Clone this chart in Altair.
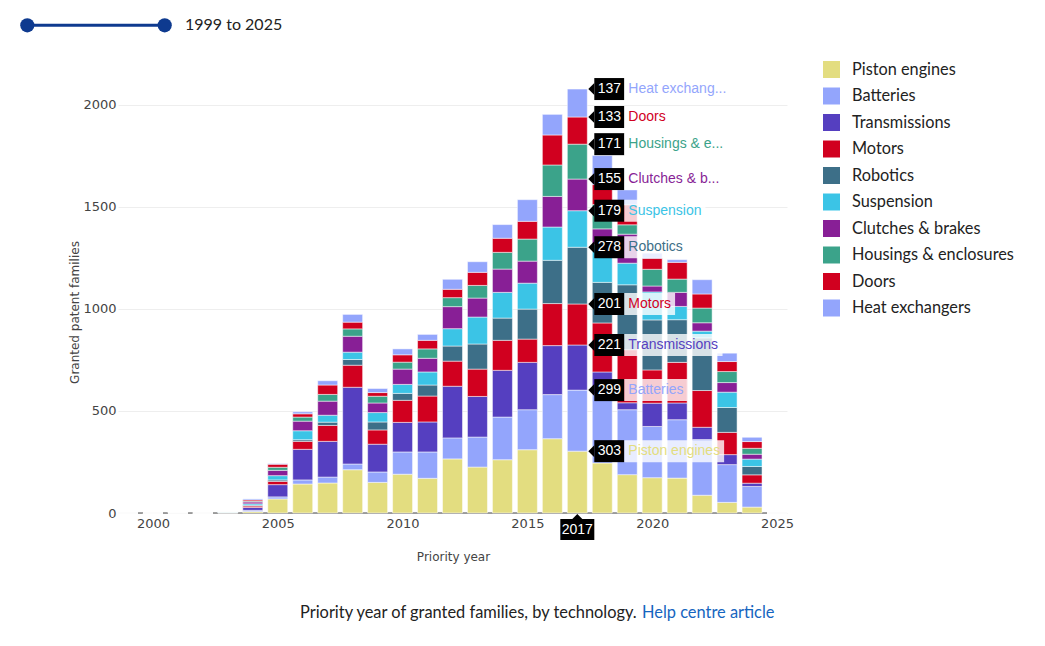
import altair as alt
import pandas as pd

# ---- data -------------------------------------------------------------
years = list(range(1999, 2026))

technologies = [
    "Piston engines", "Batteries", "Transmissions", "Motors", "Robotics",
    "Suspension", "Clutches & brakes", "Housings & enclosures", "Doors",
    "Heat exchangers",
]

#                1999 ...                                                                                                  2025
piston_engines = [0, 0, 0, 0, 0, 7, 69, 142, 147, 212, 150, 190, 170, 265, 225, 261, 310, 364, 303, 245, 188, 173, 171, 87, 52, 29, 0]
batteries      = [0, 0, 0, 0, 3, 6, 10, 20, 29, 28, 51, 109, 129, 103, 147, 209, 196, 216, 299, 335, 318, 251, 286, 273, 185, 101, 0]
transmissions  = [0, 0, 0, 0, 0, 14, 60, 150, 175, 376, 136, 145, 147, 253, 199, 229, 232, 240, 221, 111, 34, 114, 82, 60, 49, 16, 0]
motors         = [0, 0, 1, 0, 0, 7, 16, 39, 78, 108, 70, 108, 127, 123, 134, 147, 114, 206, 201, 240, 260, 163, 199, 180, 109, 41, 0]
robotics       = [0, 0, 0, 0, 0, 4, 7, 8, 16, 28, 39, 34, 54, 74, 123, 109, 147, 212, 278, 199, 318, 245, 209, 258, 122, 41, 0]
suspension     = [0, 0, 0, 0, 3, 7, 21, 44, 34, 36, 46, 44, 64, 85, 132, 126, 127, 163, 179, 185, 106, 137, 65, 33, 75, 36, 0]
clutches       = [0, 0, 0, 0, 0, 9, 26, 47, 69, 78, 47, 75, 67, 108, 93, 114, 108, 150, 155, 77, 142, 29, 69, 41, 47, 24, 0]
housings       = [0, 0, 0, 0, 0, 4, 15, 20, 33, 36, 33, 34, 46, 44, 62, 82, 108, 154, 171, 119, 46, 82, 65, 72, 54, 29, 0]
doors          = [0, 0, 0, 0, 0, 6, 15, 16, 46, 33, 18, 36, 42, 41, 64, 69, 87, 147, 133, 98, 98, 54, 82, 69, 49, 33, 0]
heat_exch      = [0, 0, 0, 0, 0, 5, 3, 10, 21, 38, 20, 29, 29, 49, 52, 67, 106, 101, 137, 142, 73, 25, 13, 70, 41, 21, 0]

series_values = [piston_engines, batteries, transmissions, motors, robotics,
                 suspension, clutches, housings, doors, heat_exch]

palette = ["#e3dd80", "#93a5fc", "#553fc0", "#d1001f", "#3d6f88",
           "#3bc4e6", "#881f96", "#3ba38a", "#d1001f", "#93a5fc"]

hover_year = 2017
x_ticks = [2000, 2005, 2010, 2015, 2020, 2025]
y_ticks = [0, 500, 1000, 1500, 2000]

# ---- layout -------------------------------------------------------------
PLOT_W, PLOT_H = 669, 446
PAD_L, PAD_T = 118, 67
PAGE_W, PAGE_H = 1045, 646
X_DOM = [1998.6, 2025.4]
Y_DOM = [0, 2185]
BAR_HALF = 0.4
PX_PER_YEAR = PLOT_W / (X_DOM[1] - X_DOM[0])

# stacked segments, piston engines at the bottom
rows = []
for yi, yr in enumerate(years):
    base = 0
    for ti, tech in enumerate(technologies):
        v = series_values[ti][yi]
        rows.append({"year": yr, "tech": tech, "value": v,
                     "y0": base, "y1": base + v})
        base += v
df = pd.DataFrame(rows)

# approximate Arial advance widths (per 1000 em) for sizing hover name boxes
ARIAL = {" ": 278, "&": 667, ".": 278, "i": 222, "l": 222, "j": 222,
         "f": 278, "t": 278, "r": 333, "c": 500, "k": 500, "s": 500,
         "v": 500, "x": 500, "y": 500, "z": 500, "m": 833, "w": 722,
         "B": 667, "C": 722, "D": 722, "H": 722, "M": 833, "P": 667,
         "R": 722, "S": 667, "T": 611}


def text_width(s, size):
    return sum(ARIAL.get(ch, 556) for ch in s) * size / 1000.0


def short_name(name):
    return name if len(name) <= 14 else name[:12] + "..."


tip = df[df["year"] == hover_year].copy()
tip["edge"] = tip["year"] + BAR_HALF
tip["short"] = tip["tech"].map(short_name)
tip["name_end"] = tip["edge"] + tip["short"].map(
    lambda s: (41 + text_width(s, 14) + 4) / PX_PER_YEAR)

xs = alt.Scale(domain=X_DOM, nice=False, zero=False)
ys = alt.Scale(domain=Y_DOM, nice=False, zero=True)
cs = alt.Scale(domain=technologies, range=palette)

TICK_FONT = "DejaVu Sans"
HOVER_FONT = "Liberation Sans"
UI_FONT = "Lato"

X_TITLE = "Priority year"
Y_TITLE = "Granted patent families"

x_axis = alt.Axis(values=x_ticks, format="d", grid=False, domain=False,
                  ticks=False, tickSize=0, labelFlush=False,
                  labelFont=TICK_FONT, labelFontSize=13,
                  labelColor="#444444", labelPadding=4,
                  titleFont=TICK_FONT, titleFontSize=12,
                  titleFontWeight="normal", titleColor="#444444",
                  titleX=335, titleY=43, titleBaseline="middle",
                  titleAlign="center")
y_axis = alt.Axis(values=y_ticks, format="d", grid=True,
                  gridColor="#eeeeee", gridWidth=1, domain=False,
                  ticks=False, tickSize=0, labelFont=TICK_FONT,
                  labelFontSize=13, labelColor="#444444",
                  labelPadding=2, titleFont=TICK_FONT,
                  titleFontSize=12, titleFontWeight="normal",
                  titleColor="#444444", titleAngle=270,
                  titleX=-44, titleY=245, titleAlign="center",
                  titleBaseline="middle")


def X(field):
    return alt.X(field, scale=xs, axis=x_axis, title=X_TITLE)


def Y(field):
    return alt.Y(field, scale=ys, axis=y_axis, title=Y_TITLE)


# ---- layers -------------------------------------------------------------
zero_line = alt.Chart(pd.DataFrame({"v": [0]})).mark_rule(
    color="#444444", strokeWidth=1
).encode(y=Y("v:Q"))

bars = alt.Chart(df).transform_calculate(
    left=f"datum.year - {BAR_HALF}", right=f"datum.year + {BAR_HALF}"
).mark_bar(stroke="white", strokeWidth=0.5).encode(
    x=X("left:Q"),
    x2="right:Q",
    y=Y("y0:Q"),
    y2="y1:Q",
    color=alt.Color("tech:N", scale=cs,
                    legend=alt.Legend(title=None, orient="none",
                                      legendX=705, legendY=-6,
                                      direction="vertical",
                                      symbolType="square", symbolSize=289,
                                      symbolStrokeWidth=0,
                                      labelFont=UI_FONT, labelFontSize=16.3,
                                      labelColor="#222222", labelOffset=12,
                                      rowPadding=9.5, padding=0,
                                      labelLimit=300)),
)

# hover labels for the highlighted year
tb = alt.Chart(tip)
tx = X("edge:Q")
ty = Y("y1:Q")

tip_arrow = tb.mark_point(shape="M0,-1L-1,0L0,1Z", filled=True, color="black",
                          opacity=1, size=144, xOffset=7).encode(x=tx, y=ty)
tip_box = tb.mark_rect(color="black", xOffset=7, x2Offset=37,
                       yOffset=-11, y2Offset=11).encode(
    x=tx, x2="edge:Q", y=ty, y2="y1:Q")
tip_num = tb.mark_text(color="white", font=HOVER_FONT, fontSize=14,
                       align="center", baseline="middle", dx=22).encode(
    x=tx, y=ty, text=alt.Text("value:Q", format="d"))
tip_name_bg = tb.mark_rect(color="white", opacity=0.8, xOffset=37,
                           yOffset=-11, y2Offset=11).encode(
    x=tx, x2="name_end:Q", y=ty, y2="y1:Q")
tip_name = tb.mark_text(font=HOVER_FONT, fontSize=14, align="left",
                        baseline="middle", dx=41).encode(
    x=tx, y=ty, text="short:N",
    color=alt.Color("tech:N", scale=cs, legend=None))

xl = alt.Chart(pd.DataFrame({"year": [hover_year], "zero": [0],
                             "label": [str(hover_year)]}))
xlx = X("year:Q")
xly = Y("zero:Q")
xl_arrow = xl.mark_point(shape="M-1,0L0,-1L1,0Z", filled=True, color="black",
                         opacity=1, size=100, yOffset=6).encode(x=xlx, y=xly)
xl_box = xl.mark_rect(color="black", xOffset=-17, x2Offset=17,
                      yOffset=6, y2Offset=27).encode(
    x=xlx, x2="year:Q", y=xly, y2="zero:Q")
xl_text = xl.mark_text(color="white", font=HOVER_FONT, fontSize=14,
                       align="center", baseline="middle", dy=16.5).encode(
    x=xlx, y=xly, text="label:N")

# range slider and caption around the plot
one = pd.DataFrame({"k": [0]})
SLIDER_BLUE = "#0e3a8f"
sl_y = 25.3 - PAD_T
sl_x0, sl_x1 = 27.3 - PAD_L, 164.7 - PAD_L
slider_line = alt.Chart(one).mark_rule(color=SLIDER_BLUE, strokeWidth=3).encode(
    x=alt.value(sl_x0), x2=alt.value(sl_x1), y=alt.value(sl_y))
slider_a = alt.Chart(one).mark_circle(color=SLIDER_BLUE, opacity=1, size=201).encode(
    x=alt.value(sl_x0), y=alt.value(sl_y))
slider_b = alt.Chart(one).mark_circle(color=SLIDER_BLUE, opacity=1, size=201).encode(
    x=alt.value(sl_x1), y=alt.value(sl_y))
slider_text = alt.Chart(one).mark_text(
    text=f"{years[0]} to {years[-1]}", align="left", baseline="middle",
    font=UI_FONT, fontSize=16, color="#222222").encode(
    x=alt.value(185 - PAD_L), y=alt.value(sl_y))

cap_y = 613 - PAD_T
caption = alt.Chart(one).mark_text(
    text="Priority year of granted families, by technology.", align="left",
    baseline="middle", font=UI_FONT, fontSize=16.4, color="#222222").encode(
    x=alt.value(300 - PAD_L), y=alt.value(cap_y))
caption_link = alt.Chart(one).mark_text(
    text="Help centre article", align="left", baseline="middle",
    font=UI_FONT, fontSize=16.4, color="#1565c0").encode(
    x=alt.value(642 - PAD_L), y=alt.value(cap_y))

chart = alt.layer(
    zero_line, bars,
    tip_arrow, tip_box, tip_num, tip_name_bg, tip_name,
    xl_arrow, xl_box, xl_text,
    slider_line, slider_a, slider_b, slider_text,
    caption, caption_link,
).properties(
    width=PLOT_W, height=PLOT_H,
    padding={"left": PAD_L, "top": PAD_T,
             "right": PAGE_W - PAD_L - PLOT_W,
             "bottom": PAGE_H - PAD_T - PLOT_H},
    autosize=alt.AutoSizeParams(type="none"),
    background="white",
).configure_view(stroke=None)

chart.save("out.html", embed_options={"renderer": "svg", "actions": False})
